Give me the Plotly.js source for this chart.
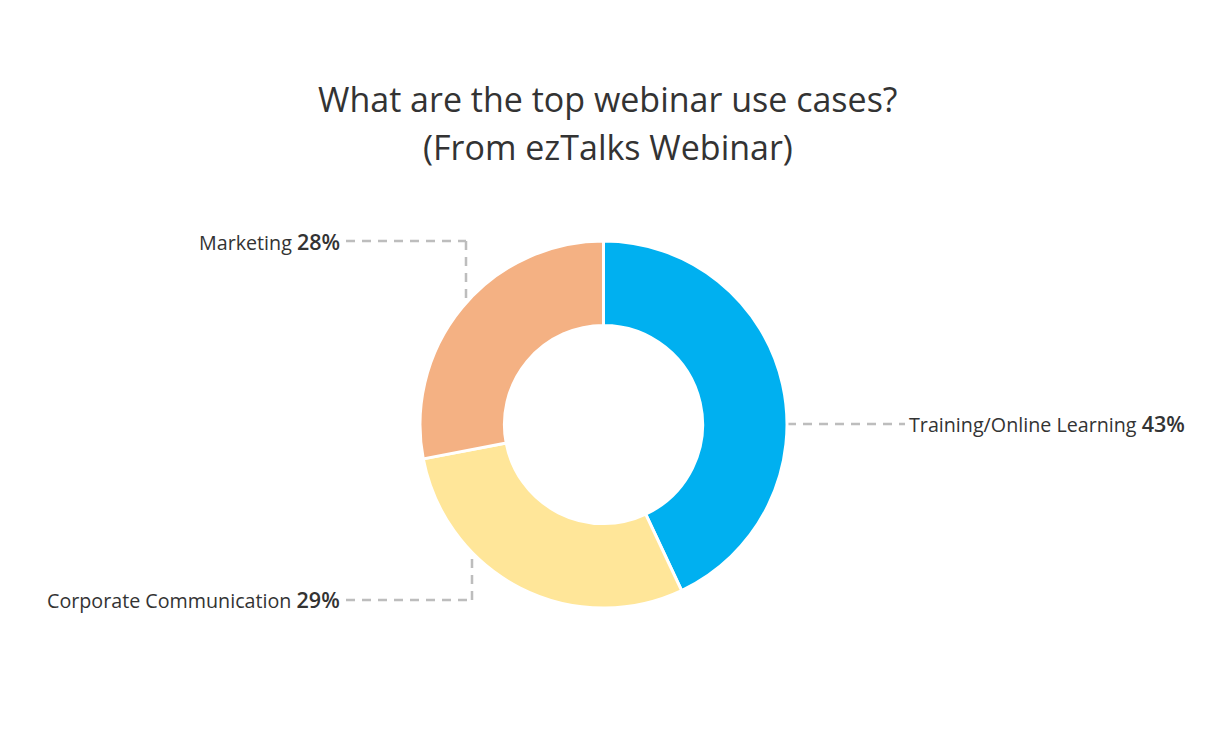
<!DOCTYPE html>
<html>
<head>
<meta charset="utf-8">
<script src="https://cdn.plot.ly/plotly-3.0.1.min.js"></script>
<style>
  html, body { margin: 0; padding: 0; background: #ffffff; }
  #chart { width: 1215px; height: 744px; }
</style>
</head>
<body>
<div id="chart"></div>
<script>
// ---- Data ----
const titleLines = ['What are the top webinar use cases?', '(From ezTalks Webinar)'];
const categories = ['Training/Online Learning', 'Corporate Communication', 'Marketing'];
const shares = [43, 29, 28];
const sliceColors = ['#00B0F0', '#FFE699', '#F4B183'];

// ---- Layout helpers (pixel -> paper, margins are zero) ----
const W = 1215, H = 744;
const px = x => x / W;
const py = y => 1 - y / H;

const FONT = '"Open Sans", "Noto Sans", sans-serif';
const TEXT_COLOR = '#333333';
const LEAD = { color: '#BDBDBD', width: 2.5, dash: '9px,7px' };

function labelText(i) {
  return categories[i] + ' <span style="font-size:21.5px;font-weight:600">' + shares[i] + '%</span>';
}

const trace = {
  type: 'pie',
  labels: categories,
  values: shares,
  sort: false,
  direction: 'clockwise',
  rotation: 0,
  hole: 0.54,
  textinfo: 'none',
  hoverinfo: 'label+percent',
  showlegend: false,
  marker: { colors: sliceColors, line: { color: '#ffffff', width: 3 } },
  domain: { x: [px(420), px(787)], y: [py(608), py(241)] }
};

function seg(x0, y0, x1, y1) {
  return { type: 'line', xref: 'paper', yref: 'paper',
    x0: px(x0), y0: py(y0), x1: px(x1), y1: py(y1), line: LEAD, layer: 'below' };
}

const shapes = [
  // Training / Online Learning
  seg(787, 424, 905, 424),
  // Marketing
  seg(346, 241, 466, 241),
  seg(466, 241, 466, 304),
  // Corporate Communication
  seg(346, 600, 472, 600),
  seg(472, 600, 472, 548)
];

const annotations = [
  { text: titleLines[0], x: 0.5, y: py(99), xref: 'paper', yref: 'paper',
    xanchor: 'center', yanchor: 'middle', showarrow: false,
    font: { family: FONT, size: 34, color: TEXT_COLOR } },
  { text: titleLines[1], x: 0.5, y: py(147), xref: 'paper', yref: 'paper',
    xanchor: 'center', yanchor: 'middle', showarrow: false,
    font: { family: FONT, size: 34, color: TEXT_COLOR } },
  { text: labelText(0), x: px(907), y: py(423), xref: 'paper', yref: 'paper',
    xanchor: 'left', yanchor: 'middle', showarrow: false,
    font: { family: FONT, size: 19.7, color: TEXT_COLOR } },
  { text: labelText(1), x: px(342), y: py(599), xref: 'paper', yref: 'paper',
    xanchor: 'right', yanchor: 'middle', showarrow: false,
    font: { family: FONT, size: 19.7, color: TEXT_COLOR } },
  { text: labelText(2), x: px(342), y: py(242), xref: 'paper', yref: 'paper',
    xanchor: 'right', yanchor: 'middle', showarrow: false,
    font: { family: FONT, size: 19.7, color: TEXT_COLOR } }
];

const layout = {
  width: W, height: H,
  margin: { l: 0, r: 0, t: 0, b: 0, pad: 0 },
  paper_bgcolor: '#ffffff',
  plot_bgcolor: '#ffffff',
  font: { family: FONT, color: TEXT_COLOR },
  showlegend: false,
  shapes: shapes,
  annotations: annotations
};

Plotly.newPlot('chart', [trace], layout, { displayModeBar: false, staticPlot: true });
</script>
</body>
</html>
